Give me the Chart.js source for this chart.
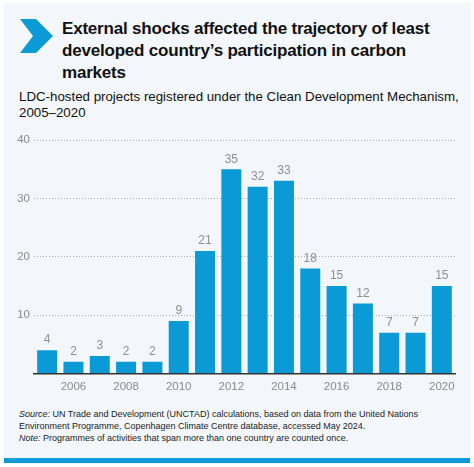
<!DOCTYPE html>
<html>
<head>
<meta charset="utf-8">
<script src="https://cdn.jsdelivr.net/npm/chart.js@4.4.1/dist/chart.umd.min.js"></script>
<style>
  html, body { margin: 0; padding: 0; background: #ffffff; }
  body { width: 474px; height: 467px; position: relative; overflow: hidden; font-family: "Liberation Sans", Arial, sans-serif; }
  #panel { position: absolute; left: 3px; top: 3px; width: 468px; height: 461px; background: #f3f7fb; }
  #bar { position: absolute; left: 4px; top: 458px; width: 466px; height: 5px; background: #0a9bd7; }
  #chev { position: absolute; left: 0; top: 0; }
  #title { position: absolute; left: 62px; top: 18px; width: 400px; font-weight: bold; font-size: 17px; line-height: 22px; color: #111; letter-spacing: -0.2px; }
  #subtitle { position: absolute; left: 19px; top: 89px; width: 452px; font-size: 13.3px; line-height: 16px; color: #111; }
  #wrap { position: absolute; left: 0; top: 125px; width: 474px; height: 275px; }
  #foot { position: absolute; left: 19px; top: 408px; width: 450px; font-size: 9px; line-height: 12px; color: #222; }
</style>
</head>
<body>
<div id="panel"></div>
<svg id="chev" width="60" height="60"><polygon points="20,19 36,19 53,36 36,53 20,53 33,36" fill="#0a9bd7"/></svg>
<div id="title">External shocks affected the trajectory of least developed country’s participation in carbon markets</div>
<div id="subtitle">LDC-hosted projects registered under the Clean Development Mechanism, 2005–2020</div>
<div id="wrap"><canvas id="c" width="474" height="275"></canvas></div>
<div id="foot"><i>Source:</i> UN Trade and Development (UNCTAD) calculations, based on data from the United Nations<br>Environment Programme, Copenhagen Climate Centre database, accessed May 2024.<br><i>Note:</i> Programmes of activities that span more than one country are counted once.</div>
<div id="bar"></div>
<script>
const years = ["2005","2006","2007","2008","2009","2010","2011","2012","2013","2014","2015","2016","2017","2018","2019","2020"];
const projects = [4, 2, 3, 2, 2, 9, 21, 35, 32, 33, 18, 15, 12, 7, 7, 15];
const yTicks = [0, 10, 20, 30, 40];
const shownYears = ["2006","2008","2010","2012","2014","2016","2018","2020"];

const valueLabels = {
  id: 'valueLabels',
  afterDatasetsDraw(chart) {
    const ctx = chart.ctx;
    const meta = chart.getDatasetMeta(0);
    ctx.save();
    ctx.font = '12px "Liberation Sans", Arial, sans-serif';
    ctx.fillStyle = '#8f8f8f';
    ctx.textAlign = 'center';
    ctx.textBaseline = 'bottom';
    meta.data.forEach((el, i) => {
      ctx.fillText(String(projects[i]), el.x, el.y - 4);
    });
    ctx.restore();
  }
};

new Chart(document.getElementById('c'), {
  type: 'bar',
  data: {
    labels: years,
    datasets: [{
      data: projects,
      backgroundColor: '#0a9bd7',
      borderWidth: 0,
      barPercentage: 0.76,
      categoryPercentage: 1.0
    }]
  },
  options: {
    responsive: false,
    animation: false,
    devicePixelRatio: 1,
    layout: { padding: { top: 15, right: 19, left: 0, bottom: 0 } },
    plugins: { legend: { display: false }, tooltip: { enabled: false }, title: { display: false } },
    scales: {
      x: {
        grid: { display: false, drawTicks: false },
        border: { display: true, color: '#333333', width: 1.5 },
        ticks: {
          autoSkip: false,
          maxRotation: 0,
          padding: 6,
          color: '#8a8a8a',
          font: { family: '"Liberation Sans", Arial, sans-serif', size: 11.5 },
          callback: function(v, i) { const y = years[i]; return shownYears.includes(y) ? y : ''; }
        },
        afterFit(scale) { scale.height = 26.5; }
      },
      y: {
        min: 0, max: 40,
        afterBuildTicks(scale) { scale.ticks = yTicks.map(v => ({ value: v })); },
        grid: {
          color: (c) => c.tick && c.tick.value === 0 ? 'rgba(0,0,0,0)' : '#a9adb2',
          lineWidth: 1,
          drawTicks: false
        },
        border: { display: false, dash: [1, 2] },
        ticks: {
          padding: 4,
          color: '#8a8a8a',
          font: { family: '"Liberation Sans", Arial, sans-serif', size: 11.5 },
          callback: (v) => v === 0 ? '' : String(v)
        },
        afterFit(scale) { scale.width = 34; }
      }
    }
  },
  plugins: [valueLabels]
});
</script>
</body>
</html>
